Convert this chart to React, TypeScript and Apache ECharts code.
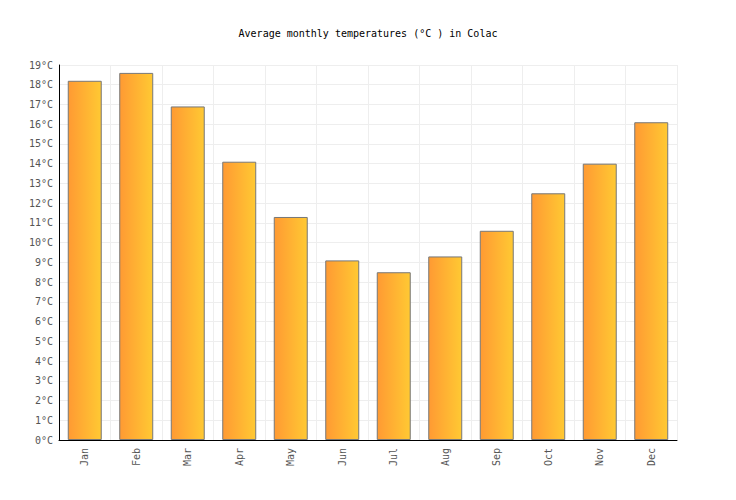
import React, { useEffect, useRef } from 'react'
import * as echarts from 'echarts'

const months = ['Jan', 'Feb', 'Mar', 'Apr', 'May', 'Jun', 'Jul', 'Aug', 'Sep', 'Oct', 'Nov', 'Dec']
const temperatures = [18.2, 18.6, 16.9, 14.1, 11.3, 9.1, 8.5, 9.3, 10.6, 12.5, 14.0, 16.1]

const FONT = 'DejaVu Sans Mono'

const App: React.FC = () => {
  const chartRef = useRef<HTMLDivElement>(null)

  useEffect(() => {
    if (!chartRef.current) return
    const chart = echarts.init(chartRef.current, undefined, { renderer: 'svg' })

    const option: echarts.EChartsOption = {
      animation: false,
      title: {
        text: 'Average monthly temperatures (°C ) in Colac',
        left: 'center',
        top: 23,
        textStyle: {
          fontFamily: FONT,
          fontSize: 10,
          fontWeight: 'normal',
          color: '#000',
        },
      },
      grid: {
        left: 59,
        right: 59,
        top: 65,
        bottom: 60,
      },
      xAxis: {
        type: 'category',
        data: months,
        boundaryGap: true,
        axisLine: { lineStyle: { color: '#000', width: 1 } },
        axisTick: { show: false },
        axisLabel: {
          rotate: 90,
          margin: 8,
          color: '#555',
          fontFamily: FONT,
          fontSize: 10,
        },
        splitLine: { show: true, lineStyle: { color: '#eeeeee', width: 1 } },
      },
      yAxis: {
        type: 'value',
        min: 0,
        max: 19,
        interval: 1,
        axisLine: { show: true, lineStyle: { color: '#000', width: 1 } },
        axisTick: { show: false },
        axisLabel: {
          formatter: '{value}°C',
          margin: 6,
          color: '#555',
          fontFamily: FONT,
          fontSize: 10,
        },
        splitLine: { show: true, lineStyle: { color: '#eeeeee', width: 1 } },
      },
      series: [
        {
          type: 'bar',
          data: temperatures,
          barWidth: '66%',
          itemStyle: {
            color: new echarts.graphic.LinearGradient(0, 0, 1, 0, [
              { offset: 0, color: '#ff9a33' },
              { offset: 1, color: '#ffc933' },
            ]),
            borderColor: '#777777',
            borderWidth: 1,
          },
        },
      ],
    }

    chart.setOption(option)
    return () => {
      chart.dispose()
    }
  }, [])

  return (
    <div
      ref={chartRef}
      style={{ position: 'fixed', left: 0, top: 0, width: '736px', height: '500px', background: '#fff' }}
    />
  )
}

export default App
